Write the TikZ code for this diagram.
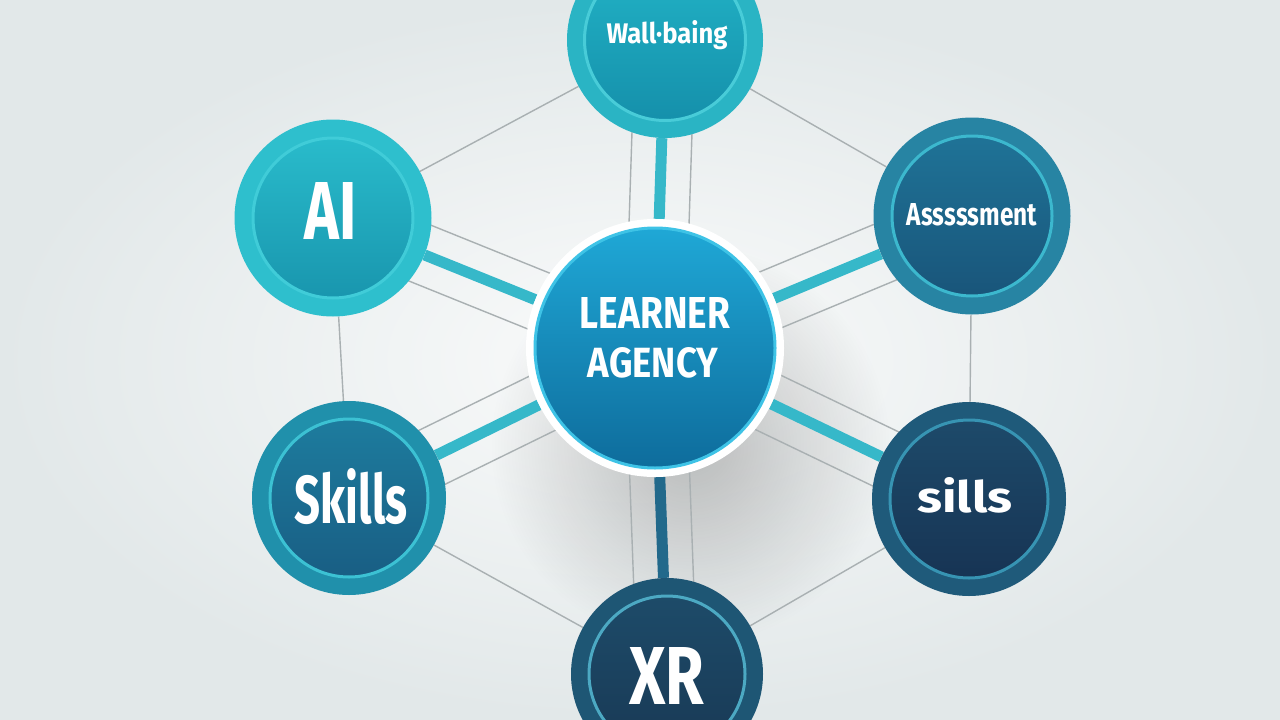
\documentclass[tikz,border=0pt]{standalone}
\usepackage{fontspec}
\setmainfont{Fira Sans}
\usetikzlibrary{calc,fadings}
\pgfdeclarelayer{bg}
\pgfsetlayers{bg,main}
\tikzfading[name=softc, inner color=transparent!0, outer color=transparent!100]
% background
\definecolor{bgA}{HTML}{FAFBFB}
\definecolor{bgB}{HTML}{E2E8E9}
\definecolor{gline}{HTML}{A9B0B2}
\definecolor{spoke}{HTML}{36B8C9}
\definecolor{spokeD}{HTML}{22698B}
% top
\definecolor{topO}{HTML}{2AB4C4}\definecolor{topT}{HTML}{22B3C6}\definecolor{topB}{HTML}{1590AB}\definecolor{topR}{HTML}{48CCD8}
% AI
\definecolor{aiO}{HTML}{2EBFCD}\definecolor{aiT}{HTML}{29BBCB}\definecolor{aiB}{HTML}{1996AE}\definecolor{aiR}{HTML}{40CCD8}
% Assessment
\definecolor{asO}{HTML}{2784A3}\definecolor{asT}{HTML}{1F7397}\definecolor{asB}{HTML}{19557A}\definecolor{asR}{HTML}{3CB8CE}
% Skills
\definecolor{skO}{HTML}{2090AB}\definecolor{skT}{HTML}{1D7C9E}\definecolor{skB}{HTML}{195E84}\definecolor{skR}{HTML}{3CC1D3}
% sills
\definecolor{siO}{HTML}{1F5A7A}\definecolor{siT}{HTML}{1D4A6A}\definecolor{siB}{HTML}{173454}\definecolor{siR}{HTML}{3794B3}
% XR
\definecolor{xrO}{HTML}{1E5674}\definecolor{xrT}{HTML}{1D4B69}\definecolor{xrB}{HTML}{193955}\definecolor{xrR}{HTML}{4CA9C3}
% center
\definecolor{cT}{HTML}{1FA8D6}\definecolor{cM}{HTML}{1488BA}\definecolor{cB}{HTML}{0E6C9C}\definecolor{cR}{HTML}{3EC3E6}
\tikzset{
  outerdisc/.style={circle, inner sep=0pt, minimum size=#1},
  innerdisc/.style={circle, inner sep=0pt, minimum size=#1, line width=3pt},
  lbl/.style={text=white, inner sep=0pt, anchor=base, font=\bfseries},
  gl/.style={draw=gline, line width=1.4pt},
  bar/.style={draw=spoke, line width=11pt},
}
\begin{document}
\begin{tikzpicture}[x=1pt,y=-1pt]
\useasboundingbox (0,0) rectangle (1280,720);
\begin{pgfonlayer}{bg}
  \shade[inner color=bgA, outer color=bgB] (0,0) rectangle (1280,720);
  \fill[black, opacity=0.24, path fading=softc] (690,445) circle (200);
\end{pgfonlayer}

% center node
\node[outerdisc=258pt, fill=white] (c) at (655,348) {};
\node[innerdisc=240pt, top color=cT, middle color=cM, bottom color=cB, draw=cR] (ci) at (c) {};
\node[lbl] (t1) at (655,328) {\resizebox{150pt}{31pt}{LEARNER}};
\node[lbl] (t2) at (653,377) {\resizebox{130pt}{30pt}{AGENCY}};

% outer nodes
\node[outerdisc=196pt, fill=topO] (top) at (665,40) {};
\node[innerdisc=161pt, top color=topT, bottom color=topB, draw=topR] (topi) at (top) {};
\node[lbl] (topt) at (667,43) {\resizebox{121pt}{23pt}{Wall·baing}};

\node[outerdisc=197pt, fill=aiO] (ai) at (333,218) {};
\node[innerdisc=160pt, top color=aiT, bottom color=aiB, draw=aiR] (aii) at (ai) {};
\node[lbl] (ait) at (331,239) {\resizebox{52pt}{57pt}{AI}};

\node[outerdisc=197pt, fill=asO] (as) at (972,216) {};
\node[innerdisc=160pt, top color=asT, bottom color=asB, draw=asR] (asi) at (as) {};
\node[lbl] (ast) at (972,225) {\resizebox{130pt}{22pt}{Asssssment}};

\node[outerdisc=194pt, fill=skO] (sk) at (349,498) {};
\node[innerdisc=158pt, top color=skT, bottom color=skB, draw=skR] (ski) at (sk) {};
\node[lbl] (skt) at (351,523) {\resizebox{113pt}{55pt}{Skills}};

\node[outerdisc=194pt, fill=siO] (si) at (969,499) {};
\node[innerdisc=158pt, top color=siT, bottom color=siB, draw=siR] (sii) at (si) {};
\node[lbl] (sit) at (965,512) {\resizebox{95pt}{35pt}{sills}};

\node[outerdisc=192pt, fill=xrO] (xr) at (667,674) {};
\node[innerdisc=156pt, top color=xrT, bottom color=xrB, draw=xrR] (xri) at (xr) {};
\node[lbl] (xrt) at (667,704) {\resizebox{75pt}{57pt}{XR}};

\begin{pgfonlayer}{bg}
  % outer ring
  \draw[gl] (ai) -- (top) -- (as) -- (si) -- (xr) -- (sk) -- (ai);
  % spokes: two thin lines and one bar each
  \foreach \n in {top,ai,as,sk,si,xr}{
    \draw[gl] ($(c)!30pt!90:(\n)$) -- ($(\n)!30pt!-90:(c)$);
    \draw[gl] ($(c)!30pt!-90:(\n)$) -- ($(\n)!30pt!90:(c)$);
  }
  \foreach \n in {top,ai,as,sk,si}{
    \draw[bar] (c) -- (\n);
  }
  \draw[bar, draw=spokeD] (c) -- (xr);
\end{pgfonlayer}
\end{tikzpicture}
\end{document}
